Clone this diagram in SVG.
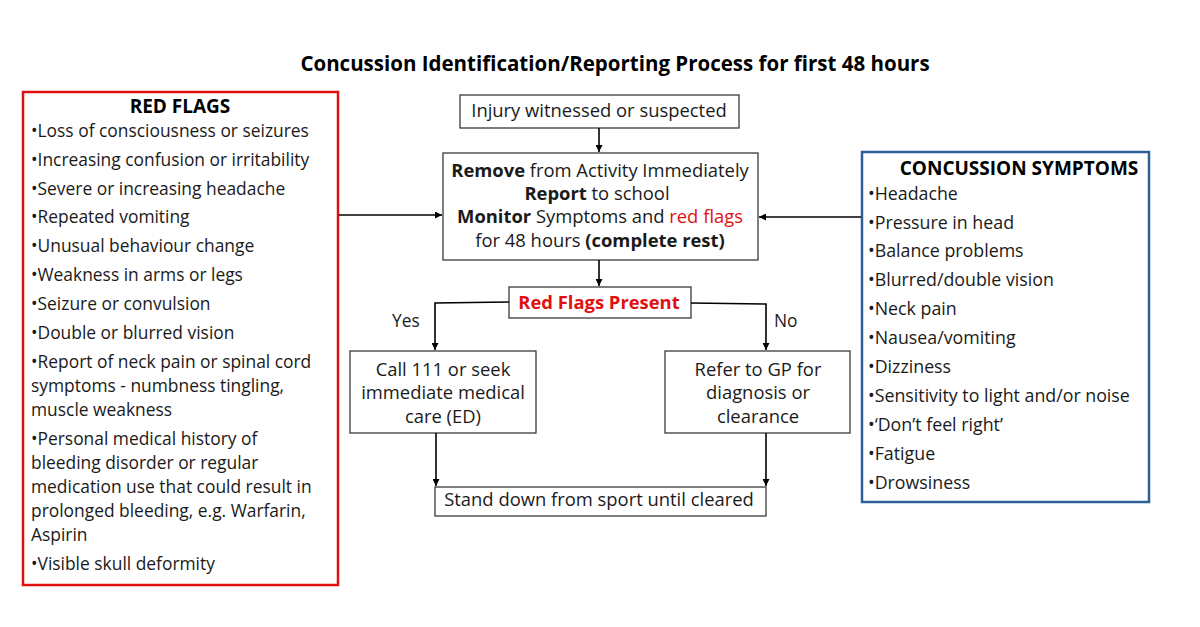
<svg xmlns="http://www.w3.org/2000/svg" width="1200" height="627" viewBox="0 0 1200 627">
<style>
text{font-family:"Open Sans","Liberation Sans",sans-serif;fill:#1a1a1a;font-size:17.4px}
.t{font-size:20.5px;font-weight:bold;fill:#000}
.h{font-weight:bold;font-size:19px;fill:#000}
.s{font-size:17.8px}
.m{font-size:18.4px}
.c{text-anchor:middle}
.b{font-weight:bold}
.r{fill:#e01010}
.box{fill:#fff;stroke:#3a3a3a;stroke-width:1.3}
.ln{fill:none;stroke:#000;stroke-width:1.6}
</style>
<defs>
<marker id="a" viewBox="0 0 10 10" refX="10" refY="5" markerWidth="7" markerHeight="7" markerUnits="userSpaceOnUse" orient="auto">
<path d="M0,0 L10,5 L0,10 z" fill="#000"/>
</marker>
</defs>
<rect width="1200" height="627" fill="#fff"/>
<text class="t c" x="615" y="71">Concussion Identification/Reporting Process for first 48 hours</text>

<g id="redflags">
<rect x="23" y="92" width="315" height="493" fill="#fff" stroke="#e01010" stroke-width="2.5"/>
<text class="h c" x="180" y="113">RED FLAGS</text>
<text x="31" y="137">•Loss of consciousness or seizures</text>
<text x="31" y="166">•Increasing confusion or irritability</text>
<text x="31" y="195">•Severe or increasing headache</text>
<text x="31" y="223">•Repeated vomiting</text>
<text x="31" y="252">•Unusual behaviour change</text>
<text x="31" y="281">•Weakness in arms or legs</text>
<text x="31" y="310">•Seizure or convulsion</text>
<text x="31" y="339">•Double or blurred vision</text>
<text x="31" y="368">•Report of neck pain or spinal cord</text>
<text x="31" y="392">symptoms - numbness tingling,</text>
<text x="31" y="416">muscle weakness</text>
<text x="31" y="445">•Personal medical history of</text>
<text x="31" y="469">bleeding disorder or regular</text>
<text x="31" y="493">medication use that could result in</text>
<text x="31" y="517">prolonged bleeding, e.g. Warfarin,</text>
<text x="31" y="541">Aspirin</text>
<text x="31" y="570">•Visible skull deformity</text>
</g>

<g id="symptoms">
<rect x="862" y="152" width="287" height="350" fill="#fff" stroke="#2e5f96" stroke-width="2.5"/>
<text class="h c" x="1019" y="175">CONCUSSION SYMPTOMS</text>
<text class="s" x="868" y="200">•Headache</text>
<text class="s" x="868" y="229">•Pressure in head</text>
<text class="s" x="868" y="257">•Balance problems</text>
<text class="s" x="868" y="286">•Blurred/double vision</text>
<text class="s" x="868" y="315">•Neck pain</text>
<text class="s" x="868" y="344">•Nausea/vomiting</text>
<text class="s" x="868" y="373">•Dizziness</text>
<text class="s" x="868" y="402">•Sensitivity to light and/or noise</text>
<text class="s" x="868" y="431">•‘Don’t feel right’</text>
<text class="s" x="868" y="460">•Fatigue</text>
<text class="s" x="868" y="489">•Drowsiness</text>
</g>

<g id="injury">
<rect class="box" x="460" y="95" width="279" height="33"/>
<text class="c m" x="599" y="117">Injury witnessed or suspected</text>
</g>

<g id="remove">
<rect class="box" x="443" y="153" width="315" height="107"/>
<text class="c m" x="600" y="177"><tspan class="b">Remove</tspan> from Activity Immediately</text>
<text class="c m" x="597" y="200"><tspan class="b">Report</tspan> to school</text>
<text class="c m" x="600" y="223"><tspan class="b">Monitor</tspan> Symptoms and <tspan class="r">red flags</tspan></text>
<text class="c m" x="600" y="247">for 48 hours <tspan class="b">(complete rest)</tspan></text>
</g>

<g id="decision">
<rect class="box" x="509" y="287" width="182" height="31"/>
<text class="c b r m" x="599" y="309">Red Flags Present</text>
</g>

<g id="call">
<rect class="box" x="350" y="351" width="186" height="82"/>
<text class="c m" x="443" y="376">Call 111 or seek</text>
<text class="c m" x="443" y="399">immediate medical</text>
<text class="c m" x="443" y="423">care (ED)</text>
</g>

<g id="gp">
<rect class="box" x="665" y="351" width="185" height="82"/>
<text class="c m" x="758" y="376">Refer to GP for</text>
<text class="c m" x="758" y="399">diagnosis or</text>
<text class="c m" x="758" y="423">clearance</text>
</g>

<g id="stand">
<rect class="box" x="435" y="487" width="331" height="29"/>
<text class="c m" x="599" y="506">Stand down from sport until cleared</text>
</g>

<g id="connectors">
<line class="ln" x1="599" y1="128" x2="599" y2="152" marker-end="url(#a)"/>
<line class="ln" x1="599" y1="260" x2="599" y2="286" marker-end="url(#a)"/>
<line class="ln" x1="339" y1="215" x2="442" y2="215" marker-end="url(#a)"/>
<line class="ln" x1="861" y1="217" x2="759" y2="217" marker-end="url(#a)"/>
<polyline class="ln" points="509,302 435,303 435,350" marker-end="url(#a)"/>
<polyline class="ln" points="691,303 766,304 766,350" marker-end="url(#a)"/>
<line class="ln" x1="436" y1="433" x2="436" y2="486" marker-end="url(#a)"/>
<line class="ln" x1="766" y1="433" x2="766" y2="486" marker-end="url(#a)"/>
<text x="392" y="327" font-size="20.5">Yes</text>
<text x="774" y="327" font-size="20">No</text>
</g>
</svg>
